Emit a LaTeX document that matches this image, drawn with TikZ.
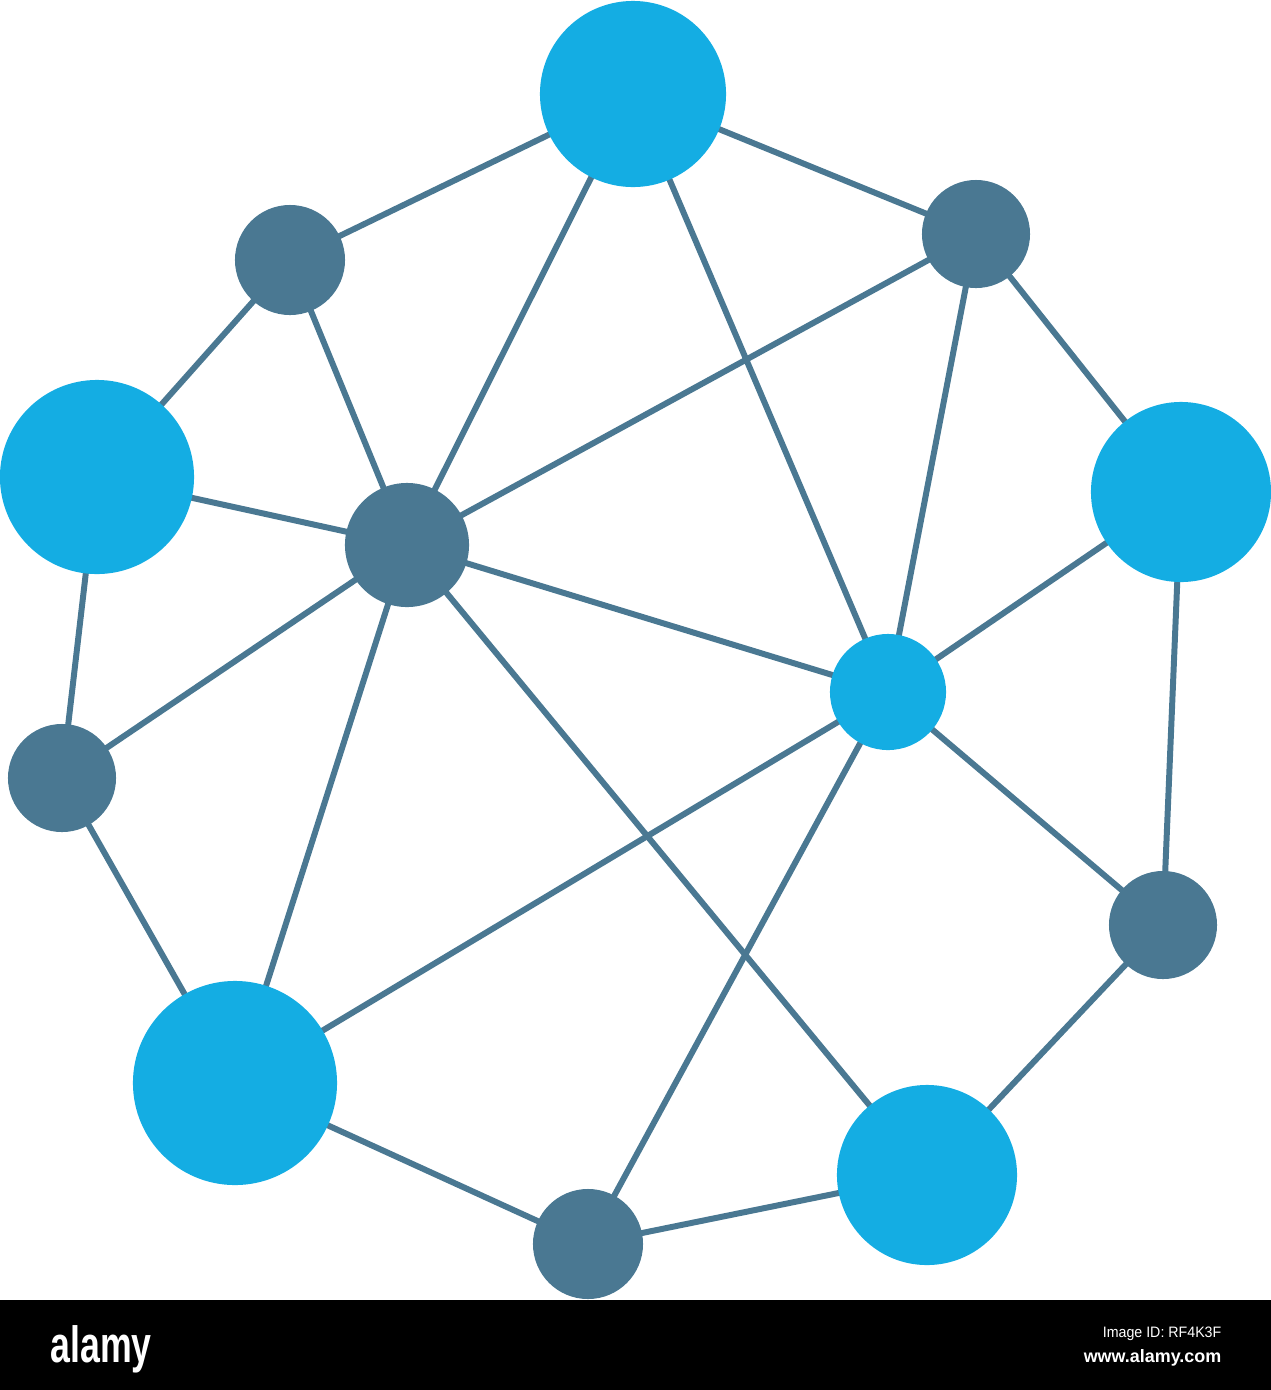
\documentclass[tikz,border=0pt]{standalone}
\usepackage{fontspec}
\setmainfont{Liberation Sans}
\usetikzlibrary{shapes,backgrounds}

\definecolor{lightblue}{HTML}{14ADE3}
\definecolor{darkblue}{HTML}{4A7892}

\tikzset{
  link/.style={draw=darkblue, line width=1.7pt},
  light/.style={circle, fill=lightblue, inner sep=0pt},
  dark/.style={circle, fill=darkblue, inner sep=0pt}
}

\begin{document}
\begin{tikzpicture}[x=0.01cm,y=-0.01cm]
\useasboundingbox (0,0) rectangle (1271,1390);
% positions of the nodes
\coordinate (top) at (633,94);
\coordinate (topleft) at (290,260);
\coordinate (topright) at (976,234);
\coordinate (left) at (97,477);
\coordinate (centre) at (407,545);
\coordinate (right) at (1181,492);
\coordinate (mid) at (888,692);
\coordinate (lowleft) at (62,778);
\coordinate (lowright) at (1163,925);
\coordinate (botleft) at (235,1083);
\coordinate (bottom) at (588,1244);
\coordinate (botright) at (927,1175);

% links
\draw[link] (top) -- (topleft);
\draw[link] (top) -- (topright);
\draw[link] (top) -- (centre);
\draw[link] (top) -- (mid);
\draw[link] (topleft) -- (left);
\draw[link] (topleft) -- (centre);
\draw[link] (topright) -- (centre);
\draw[link] (topright) -- (mid);
\draw[link] (topright) -- (right);
\draw[link] (left) -- (centre);
\draw[link] (left) -- (lowleft);
\draw[link] (centre) -- (lowleft);
\draw[link] (centre) -- (botleft);
\draw[link] (centre) -- (mid);
\draw[link] (centre) -- (botright);
\draw[link] (right) -- (mid);
\draw[link] (right) -- (lowright);
\draw[link] (mid) -- (botleft);
\draw[link] (mid) -- (bottom);
\draw[link] (mid) -- (lowright);
\draw[link] (lowleft) -- (botleft);
\draw[link] (botleft) -- (bottom);
\draw[link] (bottom) -- (botright);
\draw[link] (botright) -- (lowright);

% circles
\node[light, minimum size=1.86cm] (n-top) at (top) {};
\node[dark, minimum size=1.10cm] (n-topleft) at (topleft) {};
\node[dark, minimum size=1.08cm] (n-topright) at (topright) {};
\node[light, minimum size=1.94cm] (n-left) at (left) {};
\node[dark, minimum size=1.24cm] (n-centre) at (centre) {};
\node[light, minimum size=1.80cm] (n-right) at (right) {};
\node[light, minimum size=1.16cm] (n-mid) at (mid) {};
\node[dark, minimum size=1.08cm] (n-lowleft) at (lowleft) {};
\node[dark, minimum size=1.08cm] (n-lowright) at (lowright) {};
\node[light, minimum size=2.04cm] (n-botleft) at (botleft) {};
\node[dark, minimum size=1.10cm] (n-bottom) at (bottom) {};
\node[light, minimum size=1.80cm] (n-botright) at (botright) {};

% bottom bar
\fill[black] (0,1300) rectangle (1271,1390);
\node[white, inner sep=0pt, font=\bfseries\fontsize{14.5}{14.5}\selectfont, xscale=0.7, anchor=base west] (logo) at (50,1362) {alamy};
\node[white, inner sep=0pt, font=\fontsize{4.3}{4.3}\selectfont, xscale=0.94, anchor=base east] (imgid) at (1222,1337) {Image ID: RF4K3F};
\node[white, inner sep=0pt, font=\bfseries\fontsize{5.1}{5.1}\selectfont, anchor=base east] (site) at (1222,1362) {www.alamy.com};
\end{tikzpicture}
\end{document}
